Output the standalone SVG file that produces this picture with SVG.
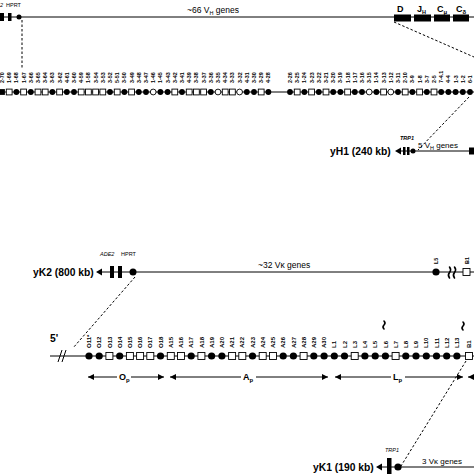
<svg xmlns="http://www.w3.org/2000/svg" width="474" height="474" viewBox="0 0 474 474">
<style>
text{font-family:"Liberation Sans",Arial,sans-serif;fill:#000}
.vh{font-size:5.4px;font-weight:bold}
.vk{font-size:6px;font-weight:bold}
.big{font-size:10.3px;font-weight:bold}
.gn{font-size:8.5px}
.it{font-size:5.5px;font-style:italic}
.seg{font-size:9px;font-weight:bold}
.bb{stroke:#000;stroke-width:1;fill:none}
.dash{stroke:#000;stroke-width:1;stroke-dasharray:2.5 2;fill:none}
.open{fill:#fff;stroke:#000;stroke-width:0.9}
.sq{stroke:#000;stroke-width:1.6;fill:none;stroke-linecap:round}
.arr{stroke:#000;stroke-width:1;fill:none}
</style>
<defs>
<rect id="hs" x="-2.9" y="-2.9" width="5.8" height="5.8" class="open"/>
<rect id="hS" x="-2.9" y="-2.9" width="5.8" height="5.8" fill="#000"/>
<circle id="hf" r="2.9" fill="#000"/>
<circle id="ho" r="2.9" class="open"/>
<rect id="ks" x="-3.5" y="-3.5" width="7" height="7" class="open"/>
<circle id="kf" r="3.6" fill="#000"/>
<marker id="ah" viewBox="0 0 10 10" refX="10" refY="5" markerWidth="8" markerHeight="6" orient="auto-start-reverse" markerUnits="userSpaceOnUse"><path d="M0,0 L10,5 L0,10 z" fill="#000"/></marker>
</defs>

<g id="backbones">
<line class="bb" x1="0" y1="17" x2="474" y2="17"/>
<line class="bb" x1="0" y1="92" x2="474" y2="92"/>
<line class="bb" x1="400" y1="151" x2="474" y2="151"/>
<line class="bb" x1="100" y1="272" x2="474" y2="272"/>
<line class="bb" x1="50" y1="356" x2="474" y2="356"/>
<line class="bb" x1="380" y1="467" x2="474" y2="467"/>
</g>

<g id="connectors">
<line class="dash" x1="22" y1="20" x2="22" y2="69"/>
<line class="dash" x1="394" y1="22" x2="474" y2="57"/>
<line class="dash" x1="469" y1="97" x2="418" y2="150"/>
<line class="dash" x1="135" y1="277" x2="73" y2="348"/>
<line class="dash" x1="466" y1="361" x2="401" y2="466"/>
</g>

<g id="yH2-markers">
<rect x="0" y="13" width="4" height="8" fill="#000"/>
<rect x="8" y="13" width="3.5" height="8" fill="#000"/>
<circle cx="19" cy="17" r="2.5" fill="#000"/>
<text class="it" x="0" y="7">2</text>
<text x="6" y="7" style="font-size:5.5px">HPRT</text>
</g>
<g id="yH2-label"><text class="gn" x="187" y="13">~66 V<tspan dy="2" style="font-size:5.5px">H</tspan><tspan dy="-2"> genes</tspan></text></g>
<g id="seg-D"><rect x="394" y="14.5" width="17" height="7" fill="#000"/><text class="seg" x="397" y="12">D</text></g>
<g id="seg-JH"><rect x="414" y="14.5" width="17" height="7" fill="#000"/><text class="seg" x="417" y="12">J<tspan dy="2" style="font-size:5.5px">H</tspan></text></g>
<g id="seg-Cmu"><rect x="434" y="14.5" width="16" height="7" fill="#000"/><text class="seg" x="437" y="12">C<tspan dy="2" style="font-size:6px">μ</tspan></text></g>
<g id="seg-Cdelta"><rect x="453" y="14.5" width="16" height="7" fill="#000"/><text class="seg" x="456" y="12">C<tspan dy="2" style="font-size:6px">δ</tspan></text></g>

<g id="vh-genes">
<g id="vh-2-70"><use href="#hS" x="2" y="92"/><text class="vh" transform="translate(3.9,83) rotate(-90)">2-70</text></g>
<g id="vh-1-69"><use href="#hs" x="9.2" y="92"/><text class="vh" transform="translate(11.1,83) rotate(-90)">1-69</text></g>
<g id="vh-1-68"><use href="#hf" x="16.4" y="92"/><text class="vh" transform="translate(18.3,83) rotate(-90)">1-68</text></g>
<g id="vh-1-67"><use href="#hs" x="23.6" y="92"/><text class="vh" transform="translate(25.5,83) rotate(-90)">1-67</text></g>
<g id="vh-3-66"><use href="#hf" x="30.8" y="92"/><text class="vh" transform="translate(32.7,83) rotate(-90)">3-66</text></g>
<g id="vh-3-65"><use href="#hs" x="38" y="92"/><text class="vh" transform="translate(39.9,83) rotate(-90)">3-65</text></g>
<g id="vh-3-64"><use href="#hs" x="45.2" y="92"/><text class="vh" transform="translate(47.1,83) rotate(-90)">3-64</text></g>
<g id="vh-3-63"><use href="#hf" x="52.4" y="92"/><text class="vh" transform="translate(54.3,83) rotate(-90)">3-63</text></g>
<g id="vh-3-62"><use href="#hs" x="59.6" y="92"/><text class="vh" transform="translate(61.5,83) rotate(-90)">3-62</text></g>
<g id="vh-4-61"><use href="#hf" x="66.8" y="92"/><text class="vh" transform="translate(68.7,83) rotate(-90)">4-61</text></g>
<g id="vh-3-60"><use href="#hf" x="74" y="92"/><text class="vh" transform="translate(75.9,83) rotate(-90)">3-60</text></g>
<g id="vh-4-59"><use href="#hs" x="81.2" y="92"/><text class="vh" transform="translate(83.1,83) rotate(-90)">4-59</text></g>
<g id="vh-1-58"><use href="#hs" x="88.4" y="92"/><text class="vh" transform="translate(90.3,83) rotate(-90)">1-58</text></g>
<g id="vh-3-54"><use href="#hs" x="95.6" y="92"/><text class="vh" transform="translate(97.5,83) rotate(-90)">3-54</text></g>
<g id="vh-3-53"><use href="#hs" x="102.8" y="92"/><text class="vh" transform="translate(104.7,83) rotate(-90)">3-53</text></g>
<g id="vh-3-52"><use href="#hf" x="110" y="92"/><text class="vh" transform="translate(111.9,83) rotate(-90)">3-52</text></g>
<g id="vh-5-51"><use href="#hs" x="117.2" y="92"/><text class="vh" transform="translate(119.1,83) rotate(-90)">5-51</text></g>
<g id="vh-3-50"><use href="#hf" x="124.4" y="92"/><text class="vh" transform="translate(126.3,83) rotate(-90)">3-50</text></g>
<g id="vh-3-49"><use href="#hs" x="131.6" y="92"/><text class="vh" transform="translate(133.5,83) rotate(-90)">3-49</text></g>
<g id="vh-3-48"><use href="#hf" x="138.8" y="92"/><text class="vh" transform="translate(140.7,83) rotate(-90)">3-48</text></g>
<g id="vh-3-47"><use href="#hf" x="146" y="92"/><text class="vh" transform="translate(147.9,83) rotate(-90)">3-47</text></g>
<g id="vh-1-46"><use href="#ho" x="153.2" y="92"/><text class="vh" transform="translate(155.1,83) rotate(-90)">1-46</text></g>
<g id="vh-1-45"><use href="#hf" x="160.4" y="92"/><text class="vh" transform="translate(162.3,83) rotate(-90)">1-45</text></g>
<g id="vh-3-43"><use href="#hf" x="167.6" y="92"/><text class="vh" transform="translate(169.5,83) rotate(-90)">3-43</text></g>
<g id="vh-3-42"><use href="#hs" x="174.8" y="92"/><text class="vh" transform="translate(176.7,83) rotate(-90)">3-42</text></g>
<g id="vh-3-41"><use href="#hf" x="182" y="92"/><text class="vh" transform="translate(183.9,83) rotate(-90)">3-41</text></g>
<g id="vh-4-39"><use href="#hs" x="189.2" y="92"/><text class="vh" transform="translate(191.1,83) rotate(-90)">4-39</text></g>
<g id="vh-3-38"><use href="#hs" x="196.4" y="92"/><text class="vh" transform="translate(198.3,83) rotate(-90)">3-38</text></g>
<g id="vh-3-37"><use href="#hs" x="203.6" y="92"/><text class="vh" transform="translate(205.5,83) rotate(-90)">3-37</text></g>
<g id="vh-3-36"><use href="#hf" x="210.8" y="92"/><text class="vh" transform="translate(212.7,83) rotate(-90)">3-36</text></g>
<g id="vh-3-35"><use href="#ho" x="218" y="92"/><text class="vh" transform="translate(219.9,83) rotate(-90)">3-35</text></g>
<g id="vh-4-34"><use href="#hs" x="225.2" y="92"/><text class="vh" transform="translate(227.1,83) rotate(-90)">4-34</text></g>
<g id="vh-3-33"><use href="#hs" x="232.4" y="92"/><text class="vh" transform="translate(234.3,83) rotate(-90)">3-33</text></g>
<g id="vh-3-32"><use href="#ho" x="239.6" y="92"/><text class="vh" transform="translate(241.5,83) rotate(-90)">3-32</text></g>
<g id="vh-4-31"><use href="#hf" x="246.8" y="92"/><text class="vh" transform="translate(248.7,83) rotate(-90)">4-31</text></g>
<g id="vh-3-30"><use href="#hf" x="254" y="92"/><text class="vh" transform="translate(255.9,83) rotate(-90)">3-30</text></g>
<g id="vh-3-29"><use href="#hs" x="261.2" y="92"/><text class="vh" transform="translate(263.1,83) rotate(-90)">3-29</text></g>
<g id="vh-4-28"><use href="#hf" x="268.4" y="92"/><text class="vh" transform="translate(270.3,83) rotate(-90)">4-28</text></g>
<g id="vh-2-26"><use href="#hf" x="290" y="92"/><text class="vh" transform="translate(291.9,83) rotate(-90)">2-26</text></g>
<g id="vh-3-25"><use href="#hs" x="297.2" y="92"/><text class="vh" transform="translate(299.1,83) rotate(-90)">3-25</text></g>
<g id="vh-1-24"><use href="#hf" x="304.4" y="92"/><text class="vh" transform="translate(306.3,83) rotate(-90)">1-24</text></g>
<g id="vh-3-23"><use href="#hs" x="311.6" y="92"/><text class="vh" transform="translate(313.5,83) rotate(-90)">3-23</text></g>
<g id="vh-3-22"><use href="#hf" x="318.8" y="92"/><text class="vh" transform="translate(320.7,83) rotate(-90)">3-22</text></g>
<g id="vh-3-21"><use href="#hs" x="326" y="92"/><text class="vh" transform="translate(327.9,83) rotate(-90)">3-21</text></g>
<g id="vh-3-20"><use href="#hf" x="333.2" y="92"/><text class="vh" transform="translate(335.1,83) rotate(-90)">3-20</text></g>
<g id="vh-3-19"><use href="#hf" x="340.4" y="92"/><text class="vh" transform="translate(342.3,83) rotate(-90)">3-19</text></g>
<g id="vh-1-18"><use href="#hs" x="347.6" y="92"/><text class="vh" transform="translate(349.5,83) rotate(-90)">1-18</text></g>
<g id="vh-1-17"><use href="#hf" x="354.8" y="92"/><text class="vh" transform="translate(356.7,83) rotate(-90)">1-17</text></g>
<g id="vh-3-16"><use href="#hf" x="362" y="92"/><text class="vh" transform="translate(363.9,83) rotate(-90)">3-16</text></g>
<g id="vh-3-15"><use href="#ho" x="369.2" y="92"/><text class="vh" transform="translate(371.1,83) rotate(-90)">3-15</text></g>
<g id="vh-1-14"><use href="#hf" x="376.4" y="92"/><text class="vh" transform="translate(378.3,83) rotate(-90)">1-14</text></g>
<g id="vh-3-13"><use href="#hs" x="383.6" y="92"/><text class="vh" transform="translate(385.5,83) rotate(-90)">3-13</text></g>
<g id="vh-1-12"><use href="#ho" x="390.8" y="92"/><text class="vh" transform="translate(392.7,83) rotate(-90)">1-12</text></g>
<g id="vh-3-11"><use href="#hf" x="398" y="92"/><text class="vh" transform="translate(399.9,83) rotate(-90)">3-11</text></g>
<g id="vh-2-10"><use href="#hs" x="405.2" y="92"/><text class="vh" transform="translate(407.1,83) rotate(-90)">2-10</text></g>
<g id="vh-3-9"><use href="#hf" x="412.4" y="92"/><text class="vh" transform="translate(414.3,83) rotate(-90)">3-9</text></g>
<g id="vh-1-8"><use href="#hs" x="419.6" y="92"/><text class="vh" transform="translate(421.5,83) rotate(-90)">1-8</text></g>
<g id="vh-3-7"><use href="#hf" x="426.8" y="92"/><text class="vh" transform="translate(428.7,83) rotate(-90)">3-7</text></g>
<g id="vh-2-5"><use href="#hs" x="434" y="92"/><text class="vh" transform="translate(435.9,83) rotate(-90)">2-5</text></g>
<g id="vh-7-4.1"><use href="#hf" x="441.2" y="92"/><text class="vh" transform="translate(443.1,83) rotate(-90)">7-4.1</text></g>
<g id="vh-4-4"><use href="#hf" x="448.4" y="92"/><text class="vh" transform="translate(450.3,83) rotate(-90)">4-4</text></g>
<g id="vh-1-3"><use href="#hf" x="455.6" y="92"/><text class="vh" transform="translate(457.5,83) rotate(-90)">1-3</text></g>
<g id="vh-1-2"><use href="#hf" x="462.8" y="92"/><text class="vh" transform="translate(464.7,83) rotate(-90)">1-2</text></g>
<g id="vh-6-1"><use href="#hf" x="470" y="92"/><text class="vh" transform="translate(471.9,83) rotate(-90)">6-1</text></g>
</g>

<g id="yH1">
<text class="big" x="330" y="155">yH1 (240 kb)</text>
<polygon points="395,151 401,147.5 401,154.5" fill="#000"/>
<rect x="403" y="147" width="2.5" height="8" fill="#000"/>
<rect x="407" y="147" width="2.5" height="8" fill="#000"/>
<circle cx="413" cy="151" r="2.5" fill="#000"/>
<text class="it" x="400" y="140" style="font-weight:bold">TRP1</text>
<text x="418" y="148" style="font-size:8px">5 V<tspan dy="2" style="font-size:5.5px">H</tspan><tspan dy="-2"> genes</tspan></text>
<rect x="469" y="147.5" width="6" height="7" fill="#000"/>
</g>

<g id="yK2">
<text class="big" x="33" y="276">yK2 (800 kb)</text>
<polygon points="96,272 102,268.5 102,275.5" fill="#000"/>
<rect x="110" y="266" width="4" height="12" fill="#000"/>
<rect x="118" y="266" width="4" height="12" fill="#000"/>
<circle cx="133" cy="272" r="3.5" fill="#000"/>
<text class="it" x="100" y="256">ADE2</text>
<text x="121" y="256" style="font-size:5.5px">HPRT</text>
<text class="gn" x="258" y="268">~32 Vκ genes</text>
</g>
<g id="yK2-L5"><circle cx="436" cy="272" r="3.6" fill="#000"/><text class="vh" transform="translate(438,264) rotate(-90)">L5</text></g>
<g id="yK2-break"><path class="sq" d="M449.5,267 q2.2,2.7 0,5.5 q-2.2,2.7 0,5.5"/><path class="sq" d="M454.5,267 q2.2,2.7 0,5.5 q-2.2,2.7 0,5.5"/></g>
<g id="yK2-B1"><rect x="463" y="268.5" width="7" height="7" class="open"/><text class="vh" transform="translate(468.5,264) rotate(-90)">B1</text></g>

<g id="k-5prime"><text class="big" x="50" y="342">5'</text>
<line class="bb" x1="58" y1="362" x2="62" y2="350"/><line class="bb" x1="62" y1="362" x2="66" y2="350"/></g>
<g id="vk-genes">
<g id="vk-O11"><use href="#kf" x="89" y="356"/><text class="vk" transform="translate(91.1,348) rotate(-90)">O11*</text></g>
<g id="vk-O12"><use href="#kf" x="99.2" y="356"/><text class="vk" transform="translate(101.3,348) rotate(-90)">O12</text></g>
<g id="vk-O13"><use href="#ks" x="109.4" y="356"/><text class="vk" transform="translate(111.5,348) rotate(-90)">O13</text></g>
<g id="vk-O14"><use href="#kf" x="119.7" y="356"/><text class="vk" transform="translate(121.8,348) rotate(-90)">O14</text></g>
<g id="vk-O15"><use href="#ks" x="129.9" y="356"/><text class="vk" transform="translate(132,348) rotate(-90)">O15</text></g>
<g id="vk-O16"><use href="#ks" x="140.1" y="356"/><text class="vk" transform="translate(142.2,348) rotate(-90)">O16</text></g>
<g id="vk-O17"><use href="#ks" x="150.3" y="356"/><text class="vk" transform="translate(152.4,348) rotate(-90)">O17</text></g>
<g id="vk-O18"><use href="#kf" x="160.5" y="356"/><text class="vk" transform="translate(162.6,348) rotate(-90)">O18</text></g>
<g id="vk-A15"><use href="#ks" x="170.8" y="356"/><text class="vk" transform="translate(172.9,348) rotate(-90)">A15</text></g>
<g id="vk-A16"><use href="#ks" x="181" y="356"/><text class="vk" transform="translate(183.1,348) rotate(-90)">A16</text></g>
<g id="vk-A17"><use href="#kf" x="191.2" y="356"/><text class="vk" transform="translate(193.3,348) rotate(-90)">A17</text></g>
<g id="vk-A18"><use href="#ks" x="201.4" y="356"/><text class="vk" transform="translate(203.5,348) rotate(-90)">A18</text></g>
<g id="vk-A19"><use href="#kf" x="211.6" y="356"/><text class="vk" transform="translate(213.7,348) rotate(-90)">A19</text></g>
<g id="vk-A20"><use href="#kf" x="221.9" y="356"/><text class="vk" transform="translate(224,348) rotate(-90)">A20</text></g>
<g id="vk-A21"><use href="#ks" x="232.1" y="356"/><text class="vk" transform="translate(234.2,348) rotate(-90)">A21</text></g>
<g id="vk-A22"><use href="#ks" x="242.3" y="356"/><text class="vk" transform="translate(244.4,348) rotate(-90)">A22</text></g>
<g id="vk-A23"><use href="#kf" x="252.5" y="356"/><text class="vk" transform="translate(254.6,348) rotate(-90)">A23</text></g>
<g id="vk-A24"><use href="#ks" x="262.7" y="356"/><text class="vk" transform="translate(264.8,348) rotate(-90)">A24</text></g>
<g id="vk-A25"><use href="#ks" x="273" y="356"/><text class="vk" transform="translate(275.1,348) rotate(-90)">A25</text></g>
<g id="vk-A26"><use href="#kf" x="283.2" y="356"/><text class="vk" transform="translate(285.3,348) rotate(-90)">A26</text></g>
<g id="vk-A27"><use href="#kf" x="293.4" y="356"/><text class="vk" transform="translate(295.5,348) rotate(-90)">A27</text></g>
<g id="vk-A28"><use href="#ks" x="303.6" y="356"/><text class="vk" transform="translate(305.7,348) rotate(-90)">A28</text></g>
<g id="vk-A29"><use href="#kf" x="313.8" y="356"/><text class="vk" transform="translate(315.9,348) rotate(-90)">A29</text></g>
<g id="vk-A30"><use href="#kf" x="324.1" y="356"/><text class="vk" transform="translate(326.2,348) rotate(-90)">A30</text></g>
<g id="vk-L1"><use href="#kf" x="334.3" y="356"/><text class="vk" transform="translate(336.4,348) rotate(-90)">L1</text></g>
<g id="vk-L2"><use href="#kf" x="344.5" y="356"/><text class="vk" transform="translate(346.6,348) rotate(-90)">L2</text></g>
<g id="vk-L3"><use href="#ks" x="354.7" y="356"/><text class="vk" transform="translate(356.8,348) rotate(-90)">L3</text></g>
<g id="vk-L4"><use href="#kf" x="364.9" y="356"/><text class="vk" transform="translate(367,348) rotate(-90)">L4</text></g>
<g id="vk-L5"><use href="#kf" x="375.2" y="356"/><text class="vk" transform="translate(377.3,348) rotate(-90)">L5</text></g>
<g id="vk-L6"><use href="#kf" x="385.4" y="356"/><text class="vk" transform="translate(387.5,348) rotate(-90)">L6</text><path class="sq" d="M384,321 q2,2 0,4 q-2,2 0,4"/></g>
<g id="vk-L7"><use href="#ks" x="395.6" y="356"/><text class="vk" transform="translate(397.7,348) rotate(-90)">L7</text></g>
<g id="vk-L8"><use href="#kf" x="405.8" y="356"/><text class="vk" transform="translate(407.9,348) rotate(-90)">L8</text></g>
<g id="vk-L9"><use href="#kf" x="416" y="356"/><text class="vk" transform="translate(418.1,348) rotate(-90)">L9</text></g>
<g id="vk-L10"><use href="#kf" x="426.3" y="356"/><text class="vk" transform="translate(428.4,348) rotate(-90)">L10</text></g>
<g id="vk-L11"><use href="#kf" x="436.5" y="356"/><text class="vk" transform="translate(438.6,348) rotate(-90)">L11</text></g>
<g id="vk-L12"><use href="#kf" x="446.7" y="356"/><text class="vk" transform="translate(448.8,348) rotate(-90)">L12</text></g>
<g id="vk-L13"><use href="#kf" x="456.9" y="356"/><text class="vk" transform="translate(459,348) rotate(-90)">L13</text><path class="sq" d="M463,322 q2,2 0,4 q-2,2 0,4"/></g>
<g id="vk-B1"><use href="#ks" x="469" y="356"/><text class="vk" transform="translate(471.1,348) rotate(-90)">B1</text></g>
</g>

<g id="cluster-Op">
<line class="arr" x1="88" y1="377" x2="117" y2="377" marker-start="url(#ah)"/>
<text class="seg" x="119" y="380">O<tspan dy="2" style="font-size:6px">p</tspan></text>
<line class="arr" x1="131" y1="377" x2="164" y2="377" marker-end="url(#ah)"/>
</g>
<g id="cluster-Ap">
<line class="arr" x1="170" y1="377" x2="241" y2="377" marker-start="url(#ah)"/>
<text class="seg" x="243" y="380">A<tspan dy="2" style="font-size:6px">p</tspan></text>
<line class="arr" x1="256" y1="377" x2="328" y2="377" marker-end="url(#ah)"/>
</g>
<g id="cluster-Lp">
<line class="arr" x1="335" y1="377" x2="391" y2="377" marker-start="url(#ah)"/>
<text class="seg" x="393" y="380">L<tspan dy="2" style="font-size:6px">p</tspan></text>
<line class="arr" x1="405" y1="377" x2="463" y2="377" marker-end="url(#ah)"/>
</g>
<g id="cluster-Bp">
<line class="arr" x1="468" y1="377" x2="480" y2="377" marker-start="url(#ah)"/>
</g>

<g id="yK1">
<text class="big" x="313" y="471">yK1 (190 kb)</text>
<polygon points="376,467 382,463.5 382,470.5" fill="#000"/>
<rect x="387" y="458" width="4.5" height="16" fill="#000"/>
<circle cx="398" cy="467" r="3.6" fill="#000"/>
<text class="it" x="385" y="452">TRP1</text>
<text x="422" y="464" style="font-size:8px">3 Vκ genes</text>
</g>
</svg>
